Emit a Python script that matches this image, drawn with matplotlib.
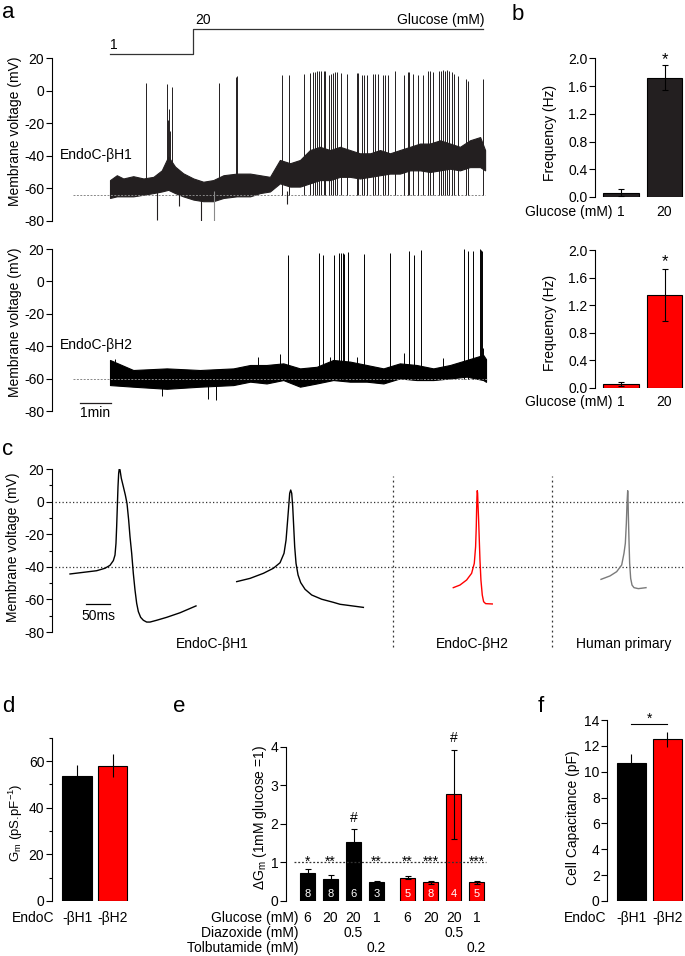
import matplotlib
matplotlib.use('Agg')
import matplotlib.pyplot as plt
from matplotlib.ticker import MultipleLocator, FormatStrFormatter

plt.rcParams['font.family'] = ['Liberation Sans', 'DejaVu Sans']
plt.rcParams['mathtext.fontset'] = 'custom'
plt.rcParams['mathtext.rm'] = 'Liberation Sans'
plt.rcParams['mathtext.it'] = 'Liberation Sans:italic'
plt.rcParams['mathtext.bf'] = 'Liberation Sans:bold'
plt.rcParams['axes.unicode_minus'] = False
plt.rcParams['axes.linewidth'] = 0.8

# ---------------- DATA ----------------
# Panel a: glucose protocol (min) and levels (mM)
glucose_t = [0, 2.68, 12.03]
glucose_levels = ['1', '20']

# Panel a, EndoC-betaH1 trace (time in min, voltage in mV): noise envelope, spikes, dips
top_band_t = [0, 0.22, 0.43, 0.75, 1.08, 1.40, 1.67, 1.88, 2.10, 2.36, 2.69, 3.01, 3.33,
              3.66, 4.09, 4.52, 4.84, 5.16, 5.48, 5.81, 6.13, 6.45, 6.77, 7.10, 7.42, 7.74,
              8.06, 8.39, 8.71, 9.03, 9.35, 9.68, 10.0, 10.32, 10.65, 10.97, 11.29, 11.61,
              11.94, 12.1]
top_band_hi = [-55, -52, -54, -52.6, -54, -53, -49, -40.5, -46.7, -50.8, -54, -56, -55,
               -52, -51, -51, -52, -53, -42.6, -44.6, -42.6, -36.5, -34.5, -36.5, -34.5,
               -36.5, -38.5, -38.5, -36.5, -38.5, -36.5, -34.5, -32.5, -32.5, -30.5, -32.5,
               -34.5, -30.5, -28.5, -36.5]
top_band_lo = [-66, -65, -65, -65, -64, -63, -62, -61, -63, -65, -67, -68, -68,
               -66, -65, -65, -63, -62, -57, -59, -59, -57, -55, -55, -53,
               -53, -54, -53, -52, -51, -51, -49, -49, -50, -49, -48,
               -49, -47, -47, -49]
top_spike_t = [1.15, 1.85, 1.87, 1.89, 1.92, 2.01, 3.53, 4.07, 4.11, 5.54, 5.78, 6.27, 6.45,
               6.55, 6.61, 6.68, 6.74, 6.81, 6.89, 6.94, 7.08, 7.13, 7.19, 7.26, 7.32, 7.44,
               7.64, 7.96, 8.00, 8.12, 8.19, 8.28, 8.47, 8.55, 8.66, 8.81, 8.87, 8.96, 9.20,
               9.49, 9.60, 9.66, 9.78, 9.95, 10.11, 10.26, 10.32, 10.42, 10.61, 10.68, 10.74,
               10.81, 10.86, 10.94, 11.02, 11.11, 11.24, 11.48, 11.56, 12.04]
top_spike_peak = [4.6, 4.4, -18, -11, -25, 2.5, 4.6, 8.5, 9, 9.7, 9.7, 10.5, 11, 11.5, 11.5,
                  12, 12, 12, 12, 12, 10, 10.5, 11, 11.5, 11.5, 11, 10.5, 11, 11, 10, 10, 10,
                  10.5, 10.5, 10.5, 10, 10, 9.5, 12, 10, 11.5, 11.5, 10.5, 10, 10, 12, 12,
                  11.5, 12, 12, 12.5, 12, 12.5, 12, 11.5, 10.5, 9, 7, 6, 7.5]
top_spike_trough = [-60] * 9 + [-64] * 51
top_dip_t = [1.51, 2.23, 2.93, 3.35, 5.70]
top_dip_v = [-79.6, -71, -82.6, -80, -70]
top_rest = -64

# Panel a, EndoC-betaH2 trace
bot_band_t = [0, 0.75, 1.83, 2.90, 3.98, 4.52, 5.05, 5.59, 6.13, 6.67, 7.20, 7.74, 8.28,
              8.82, 9.35, 9.89, 10.43, 10.97, 11.51, 12.04, 12.13]
bot_band_hi = [-48.5, -54.7, -53.7, -54.7, -53.7, -51.6, -51.6, -50.6, -53.7, -52.7, -48.5,
               -49.5, -51.6, -53.7, -50.6, -51.6, -53.7, -51.6, -48.5, -45.4, -48]
bot_band_lo = [-64, -65, -66.3, -65, -64, -61.9, -63, -60.9, -65, -63, -60.9,
               -61.9, -61.9, -63, -59.9, -60.9, -60.9, -59.9, -58.8, -60.9, -62]
bot_spike_t = [5.73, 6.74, 6.88, 7.23, 7.40, 7.46, 7.51, 7.56, 7.67, 8.20, 9.03, 9.66, 9.81,
               10.02, 11.43, 11.56, 11.72, 11.94, 11.98, 12.01]
bot_spike_peak = [16.3, 17.3, 16.3, 16.3, 17.3, 17.3, 17.3, 16.9, 18, 16.9, 17.3, 19, 16.3,
                  19.5, 20.3, 19, 19, 20, 19.5, 19]
bot_spike_trough = -60
bot_bump_t = [0.16, 4.77, 5.48, 7.10, 7.96, 9.48, 10.74, 12.02]
bot_bump_v = [-48, -46.5, -45, -46.5, -46.5, -44.5, -47.5, -41]
bot_dip_t = [1.68, 3.16, 3.42]
bot_dip_v = [-71, -72.6, -73]
bot_rest = -60

# Panel b
b_glucose = ['1', '20']
b1_freq = [0.06, 1.72]
b1_err = [0.05, 0.18]
b2_freq = [0.05, 1.35]
b2_err = [0.03, 0.38]

# Panel c: action potentials (ms from onset, mV) and their onsets within the panel (ms)
ap1_t = [0, 27.8, 55.6, 72.9, 83.3, 90.3, 93.75, 95.8, 97.2, 98.6, 100, 101.4, 102.8, 104.2,
         106.9, 111.1, 115.3, 118.75, 122.2, 125, 128.5, 131.9, 135.4, 138.9, 142.4, 147.2,
         152.8, 159.7, 166.7, 180.6, 201.4, 229.2, 262.5]
ap1_v = [-44.4, -43.4, -42.4, -40.9, -39.1, -36.2, -32.8, -25.6, -15.4, -3.1, 9.2, 17.4, 20.4,
         19.4, 14.3, 9.2, 4.0, -1.1, -11.3, -21.5, -31.7, -44, -54.2, -62.4, -67.5, -71,
         -72.8, -73.9, -73.9, -72.8, -71, -68.2, -64]
ap2_t = [0, 27.8, 55.6, 76.4, 90.3, 98.6, 102.8, 105.6, 108.3, 110.4, 112.5, 114.6, 116.7,
         118.75, 120.8, 123.6, 127.8, 133.3, 142.4, 156.25, 177.1, 201.4, 215.3, 225.7, 263.9]
ap2_v = [-49.1, -47.1, -44, -40.9, -37.5, -31.7, -23.6, -13.3, -3.1, 5.1, 7.1, 5.1, -3.1,
         -15.4, -27.7, -37.9, -45, -49.7, -53.8, -57.3, -59.9, -61.8, -63, -63.4, -64.9]
ap3_t = [0, 13.9, 27.8, 38.2, 43.75, 46.5, 47.9, 48.6, 49.3, 50, 50.7, 51.4, 52.8, 54.2,
         55.6, 57.6, 60.4, 63.2, 67.4, 81.25]
ap3_v = [-52.8, -51.2, -48.1, -44, -37.9, -27.7, -15.4, -5.2, 3, 6.7, 5.1, -1.1, -11.3,
         -23.6, -35.8, -48.1, -57.3, -61.4, -62.6, -62.8]
ap4_t = [0, 18.75, 32.6, 43.1, 47.9, 50.7, 52.8, 54.2, 55.6, 56.25, 56.9, 58.3, 59.7, 61.8,
         64.6, 68.75, 77.8, 93.75]
ap4_v = [-47.7, -45.6, -43, -38.9, -31.7, -25.6, -13.3, -1.1, 6.7, 3, -7.2, -23.6, -37.9,
         -47.1, -51.2, -52.8, -53.4, -52.8]
ap_onset = [37.5, 384.8, 836, 1143.75]
c_groups = ['EndoC-βH1', 'EndoC-βH2', 'Human primary']

# Panel d
d_lines = ['-βH1', '-βH2']
d_gm = [53.7, 58.0]
d_err = [4.6, 5.0]

# Panel e
e_glucose = ['6', '20', '20', '1', '6', '20', '20', '1']
e_diazoxide = ['', '', '0.5', '', '', '', '0.5', '']
e_tolbutamide = ['', '', '', '0.2', '', '', '', '0.2']
e_dg = [0.73, 0.58, 1.54, 0.50, 0.60, 0.48, 2.77, 0.48]
e_err = [0.10, 0.09, 0.32, 0.02, 0.04, 0.03, 1.15, 0.03]
e_n = [8, 8, 6, 3, 5, 8, 4, 5]
e_sig = ['*', '**', '#', '**', '**', '***', '#', '***']

# Panel f
f_lines = ['-βH1', '-βH2']
f_cap = [10.65, 12.53]
f_err = [0.72, 0.58]

# ---------------- FIGURE ----------------
W, H = 685, 956
fig = plt.figure(figsize=(W / 100, H / 100), dpi=100)
BLACK = '#231f20'
RED = '#ff0000'
GREY = '#7a7a7a'
FS = 10


def add_ax(x0, y0, x1, y1):
    return fig.add_axes([x0 / W, 1 - y1 / H, (x1 - x0) / W, (y1 - y0) / H])


def ftext(px, py, s, **kw):
    fig.text(px / W, 1 - py / H, s, **kw)


def style(ax, major, minor=None):
    for s in ['top', 'right', 'bottom']:
        ax.spines[s].set_visible(False)
    ax.set_xticks([])
    ax.yaxis.set_major_locator(MultipleLocator(major))
    if minor:
        ax.yaxis.set_minor_locator(MultipleLocator(minor))
    ax.tick_params(axis='y', which='major', direction='out', length=4, width=0.8,
                   labelsize=FS, pad=1.5)
    ax.tick_params(axis='y', which='minor', direction='out', length=2.5, width=0.8)
    ax.patch.set_alpha(0)


def letter(px, py, s):
    ftext(px, py, s, fontsize=16, ha='left', va='baseline')


def ylab(px, py, s, fs=10):
    ftext(px, py, s, rotation=90, ha='center', va='center', fontsize=fs)


# ---- panel a ----
PXMIN = 31.0
xl = ((52 - 110) / PXMIN, (490 - 110) / PXMIN)

axA1 = add_ax(52, 58.3, 490, 220.7)
axA1.set_xlim(*xl)
axA1.set_ylim(-80, 20)
style(axA1, 20)
axA1.hlines(top_rest, -1.19, 12.1, colors='#888888', linestyles=(0, (2, 1.5)), lw=0.7)
axA1.fill_between(top_band_t, top_band_lo, top_band_hi, color=BLACK, lw=0.8)
axA1.vlines(top_spike_t, top_spike_trough, top_spike_peak, colors=BLACK, lw=0.7)
axA1.vlines(top_dip_t, -62, top_dip_v, colors=[BLACK, BLACK, BLACK, '#8a8a8a', BLACK], lw=0.8)
axA1.plot([glucose_t[0], glucose_t[1], glucose_t[1], glucose_t[2]],
          [22.65, 22.65, 38.0, 38.0], color='#333333', lw=0.9, clip_on=False)
axA1.text(glucose_t[0], 28.2, glucose_levels[0], ha='left', va='center', fontsize=FS)
axA1.text(glucose_t[1] + 0.07, 43.6, glucose_levels[1], ha='left', va='center', fontsize=FS)
axA1.text(glucose_t[2] + 0.05, 43.6, 'Glucose (mM)', ha='right', va='center', fontsize=FS)
axA1.text(xl[0] + 8 / PXMIN, -39.5, 'EndoC-βH1', ha='left', va='center', fontsize=FS)

axA2 = add_ax(52, 249, 490, 411)
axA2.set_xlim(*xl)
axA2.set_ylim(-80, 20)
style(axA2, 20)
axA2.hlines(bot_rest, -1.19, 12.15, colors='#888888', linestyles=(0, (2, 1.5)), lw=0.7)
axA2.fill_between(bot_band_t, bot_band_lo, bot_band_hi, color='black', lw=0.8)
axA2.vlines(bot_spike_t, bot_spike_trough, bot_spike_peak, colors='black', lw=0.7)
axA2.vlines(bot_bump_t, -58, bot_bump_v, colors='black', lw=0.7)
axA2.vlines(bot_dip_t, -62, bot_dip_v, colors='black', lw=0.7)
axA2.plot([-0.97, 0.03], [-75, -75], color=BLACK, lw=0.9, clip_on=False)
axA2.text(-0.47, -81.5, '1min', ha='center', va='center', fontsize=FS)
axA2.text(xl[0] + 8 / PXMIN, -39.3, 'EndoC-βH2', ha='left', va='center', fontsize=FS)

ylab(15, 131, 'Membrane voltage (mV)')
ylab(15, 322, 'Membrane voltage (mV)')
letter(2, 18, 'a')
letter(512, 20, 'b')


# ---- panel b ----
def bars_b(box, vals, errs, color, star_y, lab_y):
    ax = add_ax(*box)
    ax.set_xlim(-0.598, 1.448)
    ax.set_ylim(0, 2.0)
    style(ax, 0.4)
    ax.yaxis.set_major_formatter(FormatStrFormatter('%.1f'))
    xs = list(range(len(vals)))
    ax.bar(xs, vals, width=0.82, color=color, edgecolor='black', lw=0.8,
           yerr=errs, error_kw=dict(ecolor='black', elinewidth=0.8, capsize=2, capthick=0.8))
    tr = ax.get_xaxis_transform()
    for x, s in zip(xs, b_glucose):
        ax.text(x, lab_y, s, transform=tr, ha='center', va='center', fontsize=FS)
    ax.text(-0.207, lab_y, 'Glucose (mM)', transform=tr, ha='right', va='center', fontsize=FS)
    ax.text(1, star_y, '*', ha='center', va='baseline', fontsize=FS + 2, clip_on=False)
    return ax


axB1 = bars_b((595, 58.3, 684, 197), b1_freq, b1_err, BLACK, 1.91, -0.108)
axB2 = bars_b((595, 250, 684, 387.7), b2_freq, b2_err, RED, 1.77, -0.105)
ylab(550, 133, 'Frequency (Hz)')
ylab(550, 323, 'Frequency (Hz)')

# ---- panel c ----
MSPX = 0.48
axC = add_ax(52, 469, 685, 632)
axC.set_xlim(0, 633 / MSPX)
axC.set_ylim(-80, 20)
style(axC, 20, 10)
for yv in [0, -40]:
    axC.hlines(yv, 6, 633 / MSPX, colors='#333333', linestyles=(0, (1, 1.8)), lw=0.9)
for xv in [710.4, 1041.7]:
    axC.vlines(xv, -89, 16, colors='#333333', linestyles=(0, (1.5, 2.5)), lw=0.9, clip_on=False)
aps = [(ap1_t, ap1_v, 'black'), (ap2_t, ap2_v, 'black'), (ap3_t, ap3_v, RED), (ap4_t, ap4_v, GREY)]
for (t, v, c), t0 in zip(aps, ap_onset):
    axC.plot([t0 + ti for ti in t], v, color=c, lw=1.0, solid_joinstyle='round')
axC.plot([70.8, 120.8], [-62.8, -62.8], color='black', lw=0.9)
axC.text(95.8, -70, '50ms', ha='center', va='center', fontsize=FS)
for xv, s in zip([333, 875, 1190], c_groups):
    axC.text(xv, -87.4, s, ha='center', va='center', fontsize=FS)
ylab(13, 547, 'Membrane voltage (mV)')
letter(2, 455, 'c')

# ---- panel d ----
axD = add_ax(52, 737.7, 130, 901)
axD.set_xlim(-0.704, 1.49)
axD.set_ylim(0, 70)
style(axD, 20, 10)
axD.bar([0, 1], d_gm, width=0.82, color=['black', RED], edgecolor='black', lw=0.8,
        yerr=d_err, error_kw=dict(ecolor='black', elinewidth=0.8, capsize=0))
trD = axD.get_xaxis_transform()
for x, s in enumerate(d_lines):
    axD.text(x, -0.104, s, transform=trD, ha='center', va='center', fontsize=FS)
axD.text(-1.24, -0.104, 'EndoC', transform=trD, ha='center', va='center', fontsize=FS)
ylab(16, 823, 'G$_{\\mathrm{m}}$ (pS.pF$^{\\mathrm{-1}}$)', fs=9.5)
letter(2, 712, 'd')

# ---- panel e ----
axE = add_ax(286, 746.7, 490, 901)
axE.set_xlim(-0.935, 7.93)
axE.set_ylim(0, 4)
style(axE, 1)
ex = [0, 1, 2, 3, 4.35, 5.35, 6.35, 7.35]
ecol = ['black'] * 4 + [RED] * 4
axE.bar(ex, e_dg, width=0.65, color=ecol, edgecolor='black', lw=0.8,
        yerr=e_err, error_kw=dict(ecolor='black', elinewidth=0.8, capsize=2, capthick=0.8))
axE.hlines(1, -0.6, 7.75, colors='#333333', linestyles=(0, (1.5, 1.5)), lw=0.9)
for x, v, er, n, s in zip(ex, e_dg, e_err, e_n, e_sig):
    axE.text(x, 0.18, str(n), color='white', ha='center', va='center', fontsize=8)
    if s == '#':
        axE.text(x, v + er + 0.12, s, ha='center', va='bottom', fontsize=FS)
    else:
        axE.text(x, 0.92, s, ha='center', va='baseline', fontsize=FS)
trE = axE.get_xaxis_transform()
rows = [('Glucose (mM)', e_glucose, -0.112), ('Diazoxide (mM)', e_diazoxide, -0.209),
        ('Tolbutamide (mM)', e_tolbutamide, -0.307)]
for lab, vals, yy in rows:
    axE.text(-0.41, yy, lab, transform=trE, ha='right', va='center', fontsize=FS)
    for x, s in zip(ex, vals):
        axE.text(x, yy, s, transform=trE, ha='center', va='center', fontsize=FS)
ylab(260, 817, 'ΔG$_{\\mathrm{m}}$ (1mM glucose =1)')
letter(173, 712, 'e')

# ---- panel f ----
axF = add_ax(607.3, 720, 684, 901)
axF.set_xlim(-0.663, 1.456)
axF.set_ylim(0, 14)
style(axF, 2)
axF.bar([0, 1], f_cap, width=0.81, color=['black', RED], edgecolor='black', lw=0.8,
        yerr=f_err, error_kw=dict(ecolor='black', elinewidth=0.8, capsize=0))
axF.plot([0, 1], [13.7, 13.7], color='black', lw=0.8, clip_on=False)
axF.text(0.5, 13.75, '*', ha='center', va='baseline', fontsize=FS, clip_on=False)
trF = axF.get_xaxis_transform()
for x, s in enumerate(f_lines):
    axF.text(x, -0.094, s, transform=trF, ha='center', va='center', fontsize=FS)
axF.text(-1.28, -0.094, 'EndoC', transform=trF, ha='center', va='center', fontsize=FS)
ylab(573, 818, 'Cell Capacitance (pF)')
letter(538, 712, 'f')

fig.savefig('out.png', dpi=100)
